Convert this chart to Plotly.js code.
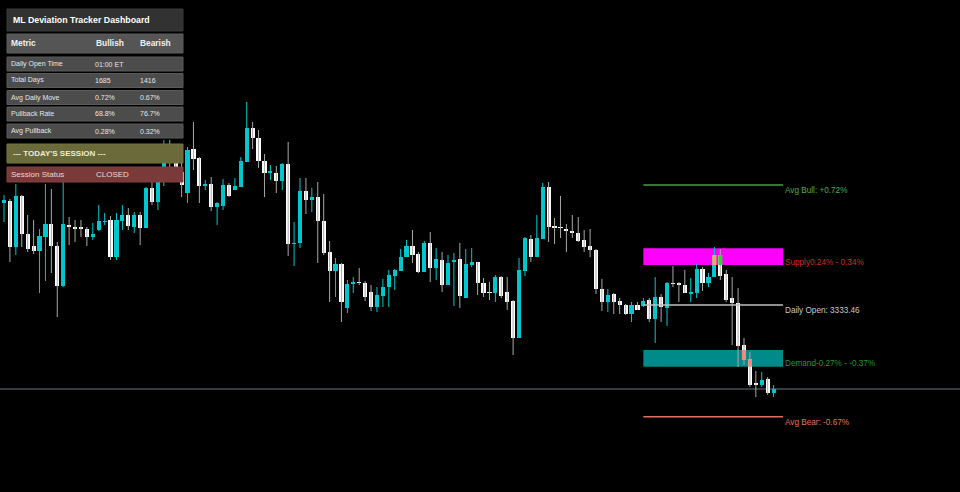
<!DOCTYPE html>
<html><head><meta charset="utf-8">
<script src="https://cdn.plot.ly/plotly-3.0.1.min.js"></script>
<style>html,body{margin:0;padding:0;background:#000;}#chart{width:960px;height:492px;}</style>
</head><body><div id="chart"></div>
<script>
// ---- candle data (prices) ----
const openP = [3353.86,3354.26,3345.06,3355.26,3347.66,3345.26,3344.26,3347.06,3349.66,3345.26,
3337.26,3349.46,3349.06,3348.86,3348.66,3347.06,3348.46,3350.06,3350.46,3343.06,
3350.26,3351.46,3349.06,3351.46,3348.86,3356.86,3354.06,3358.06,3364.46,3362.46,
3360.06,3355.86,3364.66,3362.86,3357.26,3357.66,3353.06,3353.26,3357.46,3356.46,
3357.06,3362.06,3368.86,3366.86,3362.26,3359.86,3359.86,3358.26,3361.66,3345.66,
3345.86,3356.26,3354.46,3355.06,3350.26,3344.06,3340.26,3341.66,3332.86,3337.66,
3338.06,3337.86,3336.06,3333.06,3335.26,3337.06,3339.26,3340.26,3343.06,3345.26,
3343.66,3340.06,3345.86,3340.86,3342.46,3337.46,3342.06,3342.66,3334.86,3341.46,
3342.06,3337.86,3336.06,3335.86,3339.06,3336.06,3334.26,3326.86,3340.26,3346.66,
3343.06,3346.66,3357.06,3349.26,3349.06,3348.66,3348.26,3347.86,3346.46,3345.26,
3344.46,3336.66,3334.06,3335.66,3334.26,3333.46,3331.66,3333.46,3333.26,3334.46,
3330.66,3335.06,3332.86,3337.86,3337.86,3337.46,3335.76,3335.86,3340.66,3337.86,
3339.06,3343.46,3339.66,3334.86,3333.86,3325.46,3322.66,3317.66,3317.46,3318.66,
3315.86];
const highP = [3355.46,3354.66,3357.66,3355.46,3351.46,3350.46,3348.66,3357.66,3356.66,3346.06,
3358.86,3351.06,3350.46,3350.46,3349.06,3349.86,3353.46,3351.86,3351.26,3351.86,
3353.46,3352.86,3352.06,3352.06,3357.06,3358.86,3360.46,3366.46,3366.46,3365.46,
3362.46,3365.06,3370.06,3363.06,3358.46,3359.06,3354.06,3358.66,3357.86,3358.86,
3363.06,3374.06,3370.06,3368.46,3363.66,3361.46,3361.26,3361.86,3366.06,3350.06,
3358.86,3358.86,3356.86,3358.06,3355.66,3346.26,3342.86,3341.86,3338.46,3339.06,
3340.86,3338.26,3337.46,3337.06,3338.66,3340.46,3340.66,3344.66,3346.46,3348.46,
3344.06,3346.26,3348.06,3344.86,3344.06,3343.46,3343.86,3345.86,3344.66,3344.86,
3342.06,3338.86,3338.06,3339.46,3339.26,3339.06,3334.46,3342.86,3347.06,3347.46,
3351.46,3357.86,3358.06,3350.86,3355.26,3349.66,3351.46,3351.06,3348.46,3348.66,
3344.66,3338.66,3336.66,3335.86,3334.86,3333.66,3334.06,3334.06,3334.86,3334.86,
3339.06,3335.66,3338.06,3341.26,3338.06,3340.46,3338.86,3341.66,3341.06,3339.86,
3345.06,3344.66,3340.46,3339.06,3336.86,3326.86,3324.06,3320.26,3320.06,3319.06,
3317.46];
const lowP = [3350.06,3342.06,3343.46,3345.06,3344.06,3343.66,3335.86,3338.26,3339.86,3331.06,
3337.06,3345.46,3346.06,3347.06,3345.26,3346.46,3348.26,3349.46,3342.46,3342.46,
3348.46,3348.46,3347.86,3345.46,3348.86,3353.46,3352.46,3357.26,3360.86,3358.86,
3355.06,3353.86,3360.46,3353.86,3356.46,3352.26,3349.46,3352.46,3355.06,3356.46,
3357.06,3362.06,3364.66,3360.86,3355.06,3358.46,3355.86,3356.46,3343.26,3341.26,
3344.86,3351.66,3352.06,3341.86,3343.46,3334.06,3335.06,3330.06,3331.86,3335.86,
3337.46,3334.26,3332.26,3332.06,3333.06,3333.06,3336.46,3340.26,3343.06,3341.86,
3339.86,3340.06,3338.06,3338.46,3336.06,3337.46,3333.26,3332.86,3334.86,3341.06,
3335.46,3335.06,3334.46,3334.06,3334.86,3332.46,3323.46,3326.86,3339.26,3342.06,
3343.06,3346.66,3346.06,3345.66,3346.86,3344.06,3346.86,3346.06,3344.06,3343.06,
3335.66,3332.26,3332.06,3331.66,3331.66,3331.46,3330.06,3332.46,3333.06,3330.06,
3325.86,3330.06,3329.26,3337.06,3334.06,3335.86,3334.06,3334.86,3336.26,3337.06,
3339.06,3338.46,3334.06,3325.46,3321.06,3321.46,3317.06,3315.06,3317.06,3315.46,
3315.06];
const closeP = [3354.46,3345.06,3355.26,3347.66,3344.66,3344.26,3347.26,3349.66,3345.26,3337.26,
3349.66,3349.06,3348.66,3348.76,3347.06,3347.66,3350.26,3350.26,3343.06,3350.46,
3351.46,3349.26,3351.46,3348.86,3356.86,3354.06,3358.06,3364.46,3362.46,3360.06,
3357.46,3364.46,3362.66,3357.26,3357.66,3353.06,3353.86,3357.46,3355.26,3357.26,
3362.26,3368.86,3366.86,3362.26,3359.86,3360.26,3358.26,3361.66,3345.66,3345.86,
3356.26,3354.46,3355.06,3350.26,3343.86,3340.26,3341.66,3334.06,3337.66,3338.06,
3337.86,3335.06,3333.06,3335.46,3337.06,3339.46,3340.46,3343.06,3345.26,3343.46,
3340.06,3345.86,3340.86,3342.66,3337.46,3341.86,3342.46,3335.26,3341.66,3342.06,
3337.86,3335.86,3335.86,3339.06,3335.26,3334.06,3326.86,3340.46,3346.86,3343.06,
3346.86,3357.06,3349.06,3348.86,3348.86,3348.26,3347.86,3346.26,3345.06,3344.46,
3336.66,3334.06,3335.46,3334.06,3333.46,3331.66,3333.46,3332.46,3334.26,3330.66,
3335.06,3333.06,3337.86,3337.66,3337.46,3335.86,3335.96,3340.66,3337.86,3339.06,
3343.46,3339.26,3334.46,3333.86,3325.26,3322.46,3317.46,3317.56,3318.46,3315.86,
3316.66];

// ---- levels ----
const dailyOpen = 3333.46;
const avgBullPct = 0.72;
const avgBearPct = -0.67;
const supplyPct = [0.24, 0.34];
const demandPct = [-0.27, -0.37];
const sessionStartIdx = 108;
const levelEndIdx = 131.6;

// ---- dashboard texts ----
const dashTitle = 'ML Deviation Tracker Dashboard';
const headerCols = ['Metric', 'Bullish', 'Bearish'];
const metricNames = ['Daily Open Time', 'Total Days', 'Avg Daily Move', 'Pullback Rate', 'Avg Pullback'];
const bullVals = ['01:00 ET', '1685', '0.72%', '68.8%', '0.28%'];
const bearVals = ['', '1416', '0.67%', '76.7%', '0.32%'];
const sessionTitle = "--- TODAY'S SESSION ---";
const sessionStatus = ['Session Status', 'CLOSED'];

const N = openP.length;
const idx = openP.map((_, i) => i);
const BULL = '#00c6cf', BEAR = '#ffffff', BULLWICK = '#00c6cf', BEARWICK = '#a8a8a8';
const isBull = i => closeP[i] >= openP[i];

const bodyBase = idx.map(i => Math.min(openP[i], closeP[i]));
const bodyH = idx.map(i => Math.max(Math.abs(closeP[i] - openP[i]), 0.22));
const bodyColor = idx.map(i => isBull(i) ? BULL : BEAR);

function wickTrace(filter, color) {
  const xs = [], ys = [];
  idx.forEach(i => { if (filter(i)) { xs.push(i, i, null); ys.push(highP[i], lowP[i], null); } });
  return {type: 'scatter', mode: 'lines', x: xs, y: ys, line: {color: color, width: 1},
          hoverinfo: 'skip', showlegend: false, connectgaps: false};
}

const traces = [
  wickTrace(i => isBull(i), BULLWICK),
  wickTrace(i => !isBull(i), BEARWICK),
  {type: 'bar', x: idx, base: bodyBase, y: bodyH, width: 0.7,
   marker: {color: bodyColor, line: {width: 0}}, hoverinfo: 'skip', showlegend: false}
];

const lvl = p => dailyOpen * (1 + p / 100);
const avgBull = lvl(avgBullPct), avgBear = lvl(avgBearPct);
const supLo = lvl(supplyPct[0]), supHi = lvl(supplyPct[1]);
const demHi = lvl(demandPct[0]), demLo = lvl(demandPct[1]);
const lastClose = closeP[N - 1];

const shapes = [];
// current price line
shapes.push({type: 'line', xref: 'paper', yref: 'y', x0: 0, x1: 1, y0: lastClose, y1: lastClose,
  line: {color: '#6c7480', width: 1}, layer: 'below'});
// zones
shapes.push({type: 'rect', xref: 'x', yref: 'y', x0: sessionStartIdx, x1: levelEndIdx, y0: supLo, y1: supHi,
  fillcolor: '#ff00ff', line: {width: 0}, layer: 'below'});
shapes.push({type: 'rect', xref: 'x', yref: 'y', x0: sessionStartIdx, x1: levelEndIdx, y0: demLo, y1: demHi,
  fillcolor: '#008b8b', line: {width: 0}, layer: 'below'});
// xor-style body colouring inside zones
function zoneOverlay(lo, hi, bullCol, bearCol) {
  idx.forEach(i => {
    if (i < sessionStartIdx) return;
    const b0 = bodyBase[i], b1 = bodyBase[i] + bodyH[i];
    const a = Math.max(b0, lo), b = Math.min(b1, hi);
    if (b > a) shapes.push({type: 'rect', xref: 'x', yref: 'y', x0: i - 0.35, x1: i + 0.35, y0: a, y1: b,
      fillcolor: isBull(i) ? bullCol : bearCol, line: {width: 0}, layer: 'above'});
  });
}
zoneOverlay(supLo, supHi, '#f4a860', '#3ec83e');
zoneOverlay(demLo, demHi, '#ff8f80', '#f08a84');
// level lines
const lineDef = [[avgBull, '#4c9c4c'], [dailyOpen, '#c0c0c0'], [avgBear, '#e0705e']];
lineDef.forEach(([y, c]) => shapes.push({type: 'line', xref: 'x', yref: 'y', x0: sessionStartIdx, x1: levelEndIdx,
  y0: y, y1: y, line: {color: c, width: 1.5}, layer: 'above'}));

const annotations = [];
const fontFam = 'Liberation Sans, Arial, sans-serif';
function lvlLabel(text, y, color) {
  annotations.push({xref: 'x', yref: 'y', x: levelEndIdx + 0.1, y: y, xanchor: 'left', yanchor: 'top',
    text: text, showarrow: false, font: {family: fontFam, size: 8.2, color: color}, borderpad: 0});
}
lvlLabel('Avg Bull: +' + avgBullPct.toFixed(2) + '%', avgBull, '#4caf4c');
lvlLabel('Supply' + supplyPct[0].toFixed(2) + '% - ' + supplyPct[1].toFixed(2) + '%', (supLo + supHi) / 2, '#d42a2a');
lvlLabel('Daily Open: ' + dailyOpen.toFixed(2), dailyOpen, '#c8c8c8');
lvlLabel('Demand' + demandPct[0].toFixed(2) + '% - ' + demandPct[1].toFixed(2) + '%', (demHi + demLo) / 2, '#239a23');
lvlLabel('Avg Bear: ' + avgBearPct.toFixed(2) + '%', avgBear, '#e8705e');

// ---- dashboard (pixel helper) ----
const W = 960, H = 492;
const px = x => x / W, py = y => 1 - y / H;
function cell(x0, y0, x1, y1, fill, border) {
  shapes.push({type: 'rect', xref: 'paper', yref: 'paper', x0: px(x0), x1: px(x1), y0: py(y1), y1: py(y0),
    fillcolor: fill, line: {color: border || fill, width: 1}, layer: 'above'});
}
function txt(x, y, t, size, color, bold) {
  annotations.push({xref: 'paper', yref: 'paper', x: px(x), y: py(y), xanchor: 'left', yanchor: 'middle',
    text: bold ? '<b>' + t + '</b>' : t, showarrow: false, borderpad: 0,
    font: {family: fontFam, size: size, color: color}});
}
const L = 7, R = 183;
cell(L, 9, R, 31, '#323232', '#3a3a3a');
txt(12, 20, dashTitle, 8.8, '#ffffff', true);
cell(L, 34, R, 53, '#555555', '#5e5e5e');
txt(10, 43.5, headerCols[0], 8.4, '#f0f0f0', true);
txt(95, 43.5, headerCols[1], 8.4, '#f0f0f0', true);
txt(139, 43.5, headerCols[2], 8.4, '#f0f0f0', true);
const rowTops = [57, 73.5, 90.5, 107, 124];
metricNames.forEach((m, k) => {
  const t = rowTops[k];
  cell(L, t, R, t + 14, '#4c4c4c', '#5a5a5a');
  txt(10, t + 7, m, 7, '#e6e6e6', false);
  txt(94, t + 7, bullVals[k], 7, '#e6e6e6', false);
  txt(139, t + 7, bearVals[k], 7, '#e6e6e6', false);
});
cell(L, 144, R, 163, '#6a6a3a', '#74743e');
txt(12, 153.5, sessionTitle, 8, '#ececd2', true);
cell(L, 167, R, 182, '#7a3a3a', '#844040');
txt(10, 174.5, sessionStatus[0], 8, '#ead8d8', false);
txt(95, 174.5, sessionStatus[1], 8, '#ead8d8', false);

const layout = {
  width: W, height: H, margin: {l: 0, r: 0, t: 0, b: 0, pad: 0},
  paper_bgcolor: '#000000', plot_bgcolor: '#000000', showlegend: false,
  xaxis: {range: [-4 / 5.92, (W - 4) / 5.92], visible: false, fixedrange: true},
  yaxis: {range: [3394.46 - H / 5, 3394.46], visible: false, fixedrange: true},
  shapes: shapes, annotations: annotations, bargap: 0
};
Plotly.newPlot('chart', traces, layout, {staticPlot: true, displayModeBar: false});
</script>
</body></html>
